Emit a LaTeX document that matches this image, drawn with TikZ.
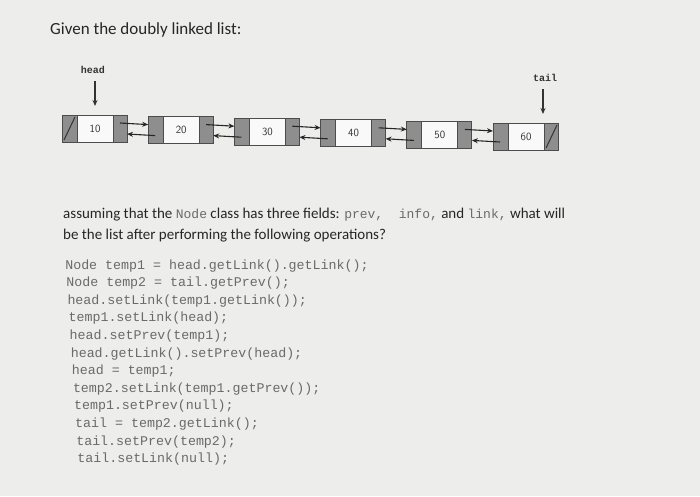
\documentclass[tikz,border=0pt]{standalone}
\usepackage{fontspec}
\setmainfont{Carlito}
\setmonofont{Liberation Mono}
\usetikzlibrary{arrows.meta,calc}
\definecolor{bg}{HTML}{EDEDEB}
\definecolor{seg}{HTML}{8E8E8E}
\definecolor{codec}{HTML}{6A6A6A}
\begin{document}
\begin{tikzpicture}[x=1pt,y=-1pt,
  lbl/.style={font=\ttfamily\bfseries\fontsize{10}{12}\selectfont,text=black!80},
  ptr/.style={draw=black!80,line width=1.1pt,-{Stealth[length=6pt,width=5pt]}},
  lnk/.style={draw=black!85,line width=1.1pt,-{Stealth[length=6pt,width=5pt]}},
  code/.style={anchor=west,inner sep=0,font=\ttfamily\fontsize{13.3}{15}\selectfont,text=codec},
  para/.style={anchor=west,inner sep=0,font=\fontsize{15}{18}\selectfont,text=black!85}]
\fill[bg] (0,0) rectangle (700,496);
\useasboundingbox (0,0) rectangle (700,496);
\node[anchor=west,inner sep=0,font=\fontsize{17}{20}\selectfont,text=black!85] (title) at (50,30) {Given the doubly linked list:};
\foreach \i/\v in {0/10,1/20,2/30,3/40,4/50,5/60}{
  \pgfmathsetmacro\xx{62+86.2*\i}
  \pgfmathsetmacro\yy{115+1.6*\i}
  \fill[seg,draw=black!70,line width=0.8pt] (\xx,\yy) rectangle ++(15,27);
  \fill[white!95!gray,draw=black!70,line width=0.8pt] (\xx+15,\yy) rectangle ++(36,27);
  \fill[seg,draw=black!70,line width=0.8pt] (\xx+51,\yy) rectangle ++(14,27);
  \node[font=\sffamily\fontsize{11}{12}\selectfont,text=black!80] (n\i) at (\xx+33,\yy+13.5) {\v};
  \coordinate (l\i) at (\xx,\yy);
}
\draw[black!80,line width=1pt] (l0)++(2,25) -- ++(11,-23);
\draw[black!80,line width=1pt] (l5)++(53,25) -- ++(11,-23);
\foreach \i [evaluate=\i as \j using int(\i+1)] in {0,...,4}{
  \draw[lnk] ($(l\i)+(58,8)$) -- ($(l\j)+(0,8)$);
  \draw[lnk] ($(l\j)+(7,19)$) -- ($(l\i)+(65,19)$);
}
\node[lbl] (hd) at (93,70) {head};
\coordinate (hs) at (95,81);
\draw[ptr] (hs) -- (95,106);
\node[lbl] (tl) at (545,78) {tail};
\coordinate (ts) at (543,89);
\draw[ptr] (ts) -- (543,114);
\node[para] (p1) at (63,215) {assuming that the {\ttfamily\fontsize{13}{15}\selectfont\color{codec}Node} class has three fields: {\ttfamily\fontsize{13}{15}\selectfont\color{codec}prev,\ \ info,} and {\ttfamily\fontsize{13}{15}\selectfont\color{codec}link,} what will};
\node[para] (p2) at (63,236) {be the list after performing the following operations?};
\foreach \t [count=\k] in {Node temp1 = head.getLink().getLink();,Node temp2 = tail.getPrev();,head.setLink(temp1.getLink());,temp1.setLink(head);,head.setPrev(temp1);,head.getLink().setPrev(head);,head = temp1;,temp2.setLink(temp1.getPrev());,temp1.setPrev(null);,tail = temp2.getLink();,tail.setPrev(temp2);,tail.setLink(null);}
  \node[code] (c\k) at ({64+1.1*\k},{248+17.6*\k}) {\t};
\end{tikzpicture}
\end{document}
